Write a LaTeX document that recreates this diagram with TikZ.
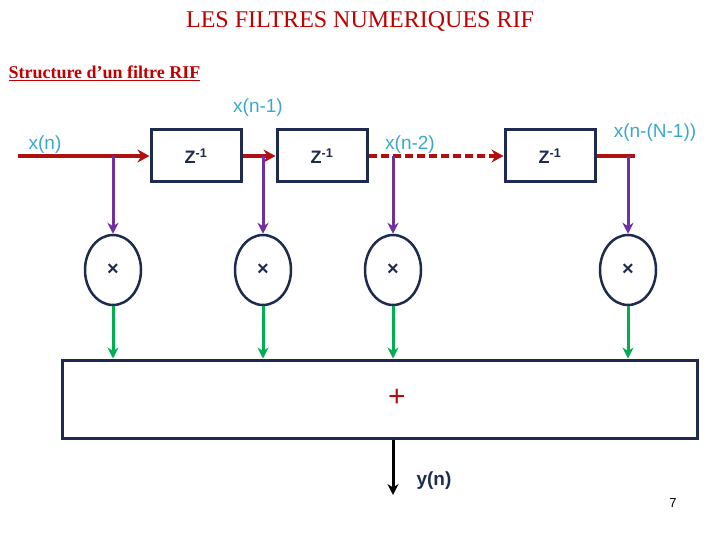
\documentclass[tikz,border=0pt]{standalone}
\usepackage{fontspec}
\setmainfont{Liberation Serif}
\newfontfamily\arial{Liberation Sans}
\usetikzlibrary{arrows.meta,shapes.geometric}
\definecolor{dred}{HTML}{B01010}
\definecolor{purp}{HTML}{7030A0}
\definecolor{grn}{HTML}{00B050}
\definecolor{navy}{HTML}{1F2A50}
\definecolor{cyanl}{HTML}{3AA8C8}
\definecolor{ttl}{HTML}{C00000}
\begin{document}
\begin{tikzpicture}[x=1pt,y=-1pt,
  zbox/.style={draw=navy,line width=3pt,minimum width=90pt,minimum height=52pt,inner sep=0pt,font=\arial\bfseries\fontsize{18}{18}\selectfont,text=navy},
  mul/.style={draw=navy,line width=2.5pt,ellipse,minimum width=56pt,minimum height=70pt,font=\arial\bfseries\fontsize{20}{20}\selectfont,text=navy},
  sig/.style={draw=dred,line width=3.5pt},
  tap/.style={draw=purp,line width=3pt,-{Stealth[length=11pt,width=11pt]}},
  gr/.style={draw=grn,line width=3pt,-{Stealth[length=11pt,width=11pt]}},
  lab/.style={text=cyanl,font=\arial\fontsize{19}{19}\selectfont}]
\useasboundingbox (0,0) rectangle (720,540);
\node[text=ttl,font=\fontsize{24}{24}\selectfont] (title) at (360,22) {LES FILTRES NUMERIQUES RIF};
\node[anchor=west,text=ttl,font=\bfseries\fontsize{18}{18}\selectfont] (sub) at (5,73) {\underline{Structure d’un filtre RIF}};
\node[zbox] (z1) at (196,156) {Z\textsuperscript{-1}};
\node[zbox] (z2) at (322,156) {Z\textsuperscript{-1}};
\node[zbox] (z3) at (550,156) {Z\textsuperscript{-1}};
\node[mul] (m1) at (113,270) {×};
\node[mul] (m2) at (263,270) {×};
\node[mul] (m3) at (393,270) {×};
\node[mul] (m4) at (628,270) {×};
\node[draw=navy,line width=3pt,minimum width=635pt,minimum height=78pt,inner sep=0pt] (sum) at (379.5,399) {};
\node[text=dred,font=\arial\fontsize{30}{30}\selectfont] (plus) at (397,398) {+};
\coordinate (in) at (18,156);
\coordinate (t1) at (113,156);
\coordinate (t2) at (263,156);
\coordinate (t3) at (393,156);
\coordinate (t4) at (635,156);
\coordinate (t4b) at (628,156);
\coordinate (out) at (393,495);
\draw[sig,-{Stealth[length=12pt,width=13pt]}] (in) -- (z1.west);
\draw[sig,-{Stealth[length=12pt,width=13pt]}] (z1.east) -- (z2.west);
\draw[sig,dash pattern=on 8pt off 4pt,-{Stealth[length=12pt,width=13pt]}] (z2.east) -- (z3.west);
\draw[sig] (z3.east) -- (t4);
\draw[tap] (t1) -- (m1.north);
\draw[tap] (t2) -- (m2.north);
\draw[tap] (t3) -- (m3.north);
\draw[tap] (t4b) -- (m4.north);
\draw[gr] (m1.south) -- (m1.south |- sum.north);
\draw[gr] (m2.south) -- (m2.south |- sum.north);
\draw[gr] (m3.south) -- (m3.south |- sum.north);
\draw[gr] (m4.south) -- (m4.south |- sum.north);
\draw[line width=3pt,-{Stealth[length=11pt,width=11pt]}] (sum.south -| out) -- (out);
\node[lab] (l0) at (45,145) {x(n)};
\node[lab] (l1) at (258,108) {x(n-1)};
\node[lab] (l2) at (410,145) {x(n-2)};
\node[lab] (l3) at (655,133) {x(n-(N-1))};
\node[font=\arial\bfseries\fontsize{19}{19}\selectfont,text=navy] (y) at (434,481) {y(n)};
\node[font=\arial\fontsize{13}{13}\selectfont] (pg) at (673,503) {7};
\end{tikzpicture}
\end{document}
